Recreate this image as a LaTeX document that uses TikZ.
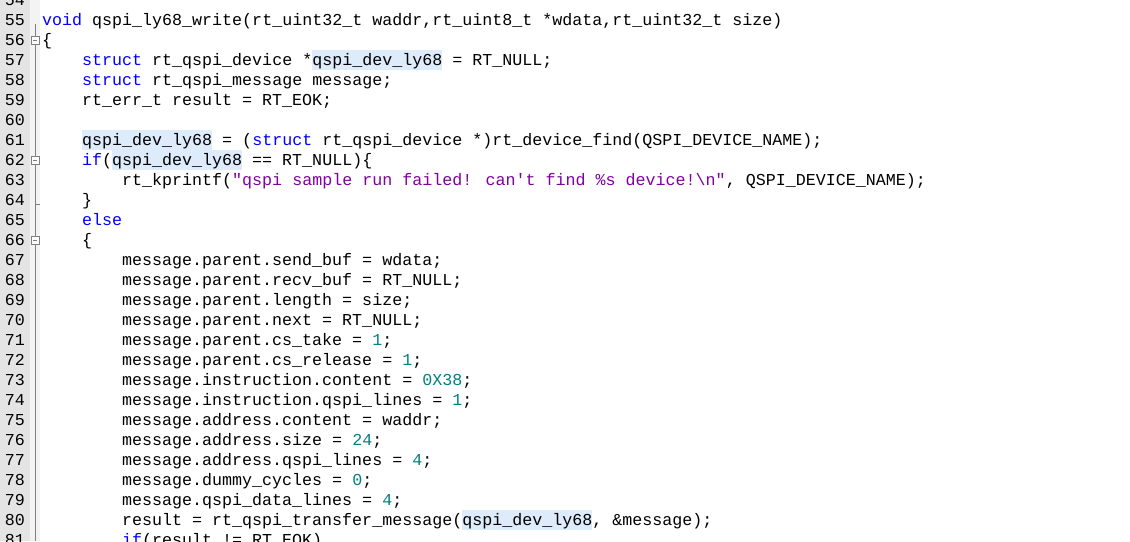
\documentclass[tikz,border=0pt]{standalone}
\usepackage{fontspec}
\newfontfamily\codefont{Liberation Mono}
\definecolor{kwblue}{RGB}{0,0,255}
\definecolor{strpurple}{RGB}{128,0,160}
\definecolor{numteal}{RGB}{0,128,128}
\definecolor{gutter}{RGB}{228,228,228}
\definecolor{foldbg}{RGB}{243,243,243}
\definecolor{markblue}{RGB}{221,235,250}
\definecolor{foldgray}{RGB}{128,128,128}
\newcommand{\kw}[1]{\textcolor{kwblue}{#1}}
\newcommand{\str}[1]{\textcolor{strpurple}{#1}}
\newcommand{\num}[1]{\textcolor{numteal}{#1}}
\begin{document}
\begin{tikzpicture}[x=1pt,y=-1pt,
  code/.style={anchor=base west,inner sep=0pt,font=\codefont\fontsize{16.67}{20}\selectfont},
  lineno/.style={anchor=base east,inner sep=0pt,font=\codefont\fontsize{16.67}{20}\selectfont},
  foldbox/.style={draw=foldgray,fill=white,minimum size=8pt,inner sep=0pt},
  wordmark/.style={fill=markblue,draw=none}]

%page and margins
\useasboundingbox (0,0) rectangle (1130,541);
\fill[white] (0,0) rectangle (1130,541);
\fill[gutter] (0,0) rectangle (30,541);
\fill[foldbg] (30,0) rectangle (40,541);

%marked occurrences of qspi_dev_ly68
\foreach \cx/\ln in {312/57,82/61,112/62,462/80}
  \fill[wordmark] (\cx,{10+(\ln-55)*20}) rectangle ++(130,20);

%line numbers
\foreach \ln in {54,...,81}
  \node[lineno] (n\ln) at (25,{25+(\ln-55)*20}) {\ln};

%fold markers
\coordinate (ftop) at (35,24);
\coordinate (fbot) at (35,541);
\draw[foldgray] (ftop) -- (fbot);
\draw[foldgray] (35,204) -- (40,204);
\foreach \ln in {56,62,66}{
  \node[foldbox] (f\ln) at (35,{20+(\ln-55)*20}) {};
  \draw[foldgray] ([xshift=2pt]f\ln.west) -- ([xshift=-2pt]f\ln.east);
}

%code lines
\node[code] (l55) at (42,25) {\kw{void} qspi\_ly68\_write(rt\_uint32\_t waddr,rt\_uint8\_t *wdata,rt\_uint32\_t size)};
\node[code] (l56) at (42,45) {\{};
\node[code] (l57) at (82,65) {\kw{struct} rt\_qspi\_device *qspi\_dev\_ly68 = RT\_NULL;};
\node[code] (l58) at (82,85) {\kw{struct} rt\_qspi\_message message;};
\node[code] (l59) at (82,105) {rt\_err\_t result = RT\_EOK;};
\node[code] (l61) at (82,145) {qspi\_dev\_ly68 = (\kw{struct} rt\_qspi\_device *)rt\_device\_find(QSPI\_DEVICE\_NAME);};
\node[code] (l62) at (82,165) {\kw{if}(qspi\_dev\_ly68 == RT\_NULL)\{};
\node[code] (l63) at (122,185) {rt\_kprintf(\str{"qspi sample run failed! can't find \%s device!\textbackslash n"}, QSPI\_DEVICE\_NAME);};
\node[code] (l64) at (82,205) {\}};
\node[code] (l65) at (82,225) {\kw{else}};
\node[code] (l66) at (82,245) {\{};
\node[code] (l67) at (122,265) {message.parent.send\_buf = wdata;};
\node[code] (l68) at (122,285) {message.parent.recv\_buf = RT\_NULL;};
\node[code] (l69) at (122,305) {message.parent.length = size;};
\node[code] (l70) at (122,325) {message.parent.next = RT\_NULL;};
\node[code] (l71) at (122,345) {message.parent.cs\_take = \num{1};};
\node[code] (l72) at (122,365) {message.parent.cs\_release = \num{1};};
\node[code] (l73) at (122,385) {message.instruction.content = \num{0X38};};
\node[code] (l74) at (122,405) {message.instruction.qspi\_lines = \num{1};};
\node[code] (l75) at (122,425) {message.address.content = waddr;};
\node[code] (l76) at (122,445) {message.address.size = \num{24};};
\node[code] (l77) at (122,465) {message.address.qspi\_lines = \num{4};};
\node[code] (l78) at (122,485) {message.dummy\_cycles = \num{0};};
\node[code] (l79) at (122,505) {message.qspi\_data\_lines = \num{4};};
\node[code] (l80) at (122,525) {result = rt\_qspi\_transfer\_message(qspi\_dev\_ly68, \&message);};
\node[code] (l81) at (122,545) {\kw{if}(result != RT\_EOK)};
\end{tikzpicture}
\end{document}
